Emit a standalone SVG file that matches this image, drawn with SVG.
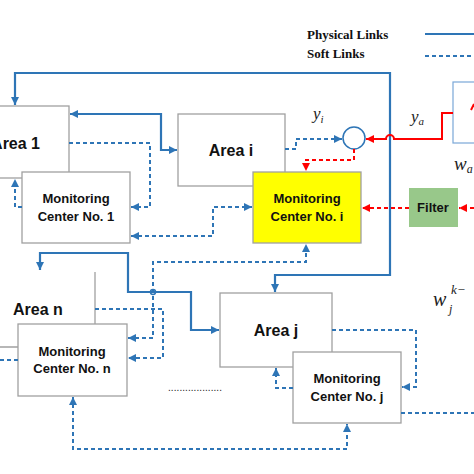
<svg xmlns="http://www.w3.org/2000/svg" width="474" height="474" viewBox="0 0 474 474">
<style>
.box{fill:#fff;stroke:#a0a0a0;stroke-width:1.3}
.area{font-family:"Liberation Sans",Arial,sans-serif;font-weight:bold;font-size:16px;fill:#111}
.mc{font-family:"Liberation Sans",Arial,sans-serif;font-weight:bold;font-size:13px;fill:#111}
.leg{font-family:"Liberation Serif","Times New Roman",serif;font-weight:bold;font-size:13px;fill:#111}
.math{font-family:"Liberation Serif","Times New Roman",serif;font-style:italic;fill:#222}
.phys{fill:none;stroke:#2e75b6;stroke-width:2.2}
.soft{fill:none;stroke:#2e75b6;stroke-width:2;stroke-dasharray:4 3}
.red{fill:none;stroke:#ff0000;stroke-width:2}
.redd{fill:none;stroke:#ff0000;stroke-width:2;stroke-dasharray:4 3}
</style>
<defs>
<marker id="ab" viewBox="0 0 10 10" refX="10" refY="5" markerUnits="userSpaceOnUse" markerWidth="9" markerHeight="8" orient="auto-start-reverse"><path d="M0,0 L10,5 L0,10 z" fill="#2e75b6"/></marker>
<marker id="ar" viewBox="0 0 10 10" refX="10" refY="5" markerUnits="userSpaceOnUse" markerWidth="9" markerHeight="8" orient="auto-start-reverse"><path d="M0,0 L10,5 L0,10 z" fill="#ff0000"/></marker>
</defs>
<rect width="474" height="474" fill="#fff"/>

<g id="legend">
<text class="leg" x="307" y="39">Physical Links</text>
<text class="leg" x="307" y="58">Soft Links</text>
<line x1="425" y1="34" x2="474" y2="34" class="phys"/>
<line x1="425" y1="56" x2="474" y2="56" class="soft"/>
</g>

<g id="area1"><rect class="box" x="-2" y="106" width="71" height="72"/><text class="area" x="40" y="149" text-anchor="end">Area 1</text></g>
<g id="areai"><rect class="box" x="178" y="114" width="107" height="72"/><text class="area" x="231" y="156" text-anchor="middle">Area i</text></g>
<g id="arean"><path class="box" style="fill:none" d="M95,272 L95,347 L-2,347"/><text class="area" x="13" y="315">Area n</text></g>
<g id="areaj"><rect class="box" x="220" y="293" width="112" height="74"/><text class="area" x="276" y="336" text-anchor="middle">Area j</text></g>

<g id="mc1"><rect class="box" x="22" y="172" width="108" height="71"/><text class="mc" x="76" y="203" text-anchor="middle">Monitoring</text><text class="mc" x="76" y="221" text-anchor="middle">Center No. 1</text></g>
<g id="mci"><rect class="box" style="fill:#ffff00" x="253" y="172" width="108" height="71"/><text class="mc" x="307" y="203" text-anchor="middle">Monitoring</text><text class="mc" x="307" y="221" text-anchor="middle">Center No. i</text></g>
<g id="mcn"><rect class="box" x="18" y="324" width="109" height="72"/><text class="mc" x="72" y="356" text-anchor="middle">Monitoring</text><text class="mc" x="72" y="373" text-anchor="middle">Center No. n</text></g>
<g id="mcj"><rect class="box" x="293" y="352" width="108" height="71"/><text class="mc" x="347" y="383" text-anchor="middle">Monitoring</text><text class="mc" x="347" y="401" text-anchor="middle">Center No. j</text></g>
<g id="filter"><rect x="409" y="188" width="49" height="39" fill="#98c88a"/><text class="mc" x="433" y="212" text-anchor="middle">Filter</text></g>
<g id="sum"><circle cx="354" cy="138" r="11" fill="#fff" stroke="#2e75b6" stroke-width="1.5"/></g>
<g id="attacker"><rect x="453" y="82" width="30" height="61" fill="#fff" stroke="#7aa7d8" stroke-width="1.2"/><path d="M471,110 L474,104" class="red"/></g>

<g id="connectors">
<path class="phys" d="M15,105 L15,73 L390,73 L390,275 L275,275 L275,292" marker-start="url(#ab)" marker-end="url(#ab)"/>
<path class="phys" d="M70,114 L161,114 L161,150 L177,150" marker-start="url(#ab)" marker-end="url(#ab)"/>
<path class="phys" d="M40,270 L40,253 L128,253 L128,292 L191,292 L191,330 L219,330" marker-start="url(#ab)" marker-end="url(#ab)"/>
<path class="red" d="M453,113 L442,113 L442,139 L394,139 A4,4 0 0 0 386,139 L366,139" marker-end="url(#ar)"/>
<path class="redd" d="M354,149 L354,160 L306,160 L306,171" marker-end="url(#ar)"/>
<path class="redd" d="M409,208 L362,208" marker-end="url(#ar)"/>
<path class="redd" d="M474,208 L459,208" marker-end="url(#ar)"/>
<path class="soft" d="M285,149 L296,149 L296,139 L342,139" marker-end="url(#ab)"/>
<path class="soft" d="M69,143 L150,143 L150,207 L131,207" marker-end="url(#ab)"/>
<path class="soft" d="M22,207 L15,207 L15,179" marker-end="url(#ab)"/>
<path class="soft" d="M131,236 L213,236 L213,207 L252,207" marker-start="url(#ab)" marker-end="url(#ab)"/>
<path class="soft" d="M128,338 L153,338 L153,262 L306,262 L306,244" marker-start="url(#ab)" marker-end="url(#ab)"/>
<circle cx="153" cy="292" r="2.5" fill="none" stroke="#2e75b6" stroke-width="1.5"/>
<path class="soft" d="M95,309 L163,309 L163,358 L128,358" marker-end="url(#ab)"/>
<path class="soft" d="M0,360 L18,360"/>
<path class="soft" d="M332,330 L416,330 L416,387 L402,387" marker-end="url(#ab)"/>
<path class="soft" d="M293,388 L276,388 L276,368" marker-end="url(#ab)"/>
<path class="soft" d="M401,413 L474,413"/>
<path class="soft" d="M73,397 L73,449 L347,449 L347,424" marker-start="url(#ab)" marker-end="url(#ab)"/>
</g>

<g id="labels">
<text class="math" x="313" y="119" font-size="17">y<tspan font-size="11" dy="4">i</tspan></text>
<text class="math" x="411" y="122" font-size="17">y<tspan font-size="11" dy="3">a</tspan></text>
<text class="math" x="454" y="170" font-size="19">w<tspan font-size="12" dy="3">a</tspan></text>
<text class="math" x="433" y="306" font-size="20">w</text>
<text class="math" x="449" y="313" font-size="12">j</text>
<text class="math" x="451" y="294" font-size="13">k−</text>
<text x="168" y="391" font-family="Liberation Sans,Arial,sans-serif" font-size="10" fill="#222" textLength="54" lengthAdjust="spacing">...................</text>
</g>
</svg>
